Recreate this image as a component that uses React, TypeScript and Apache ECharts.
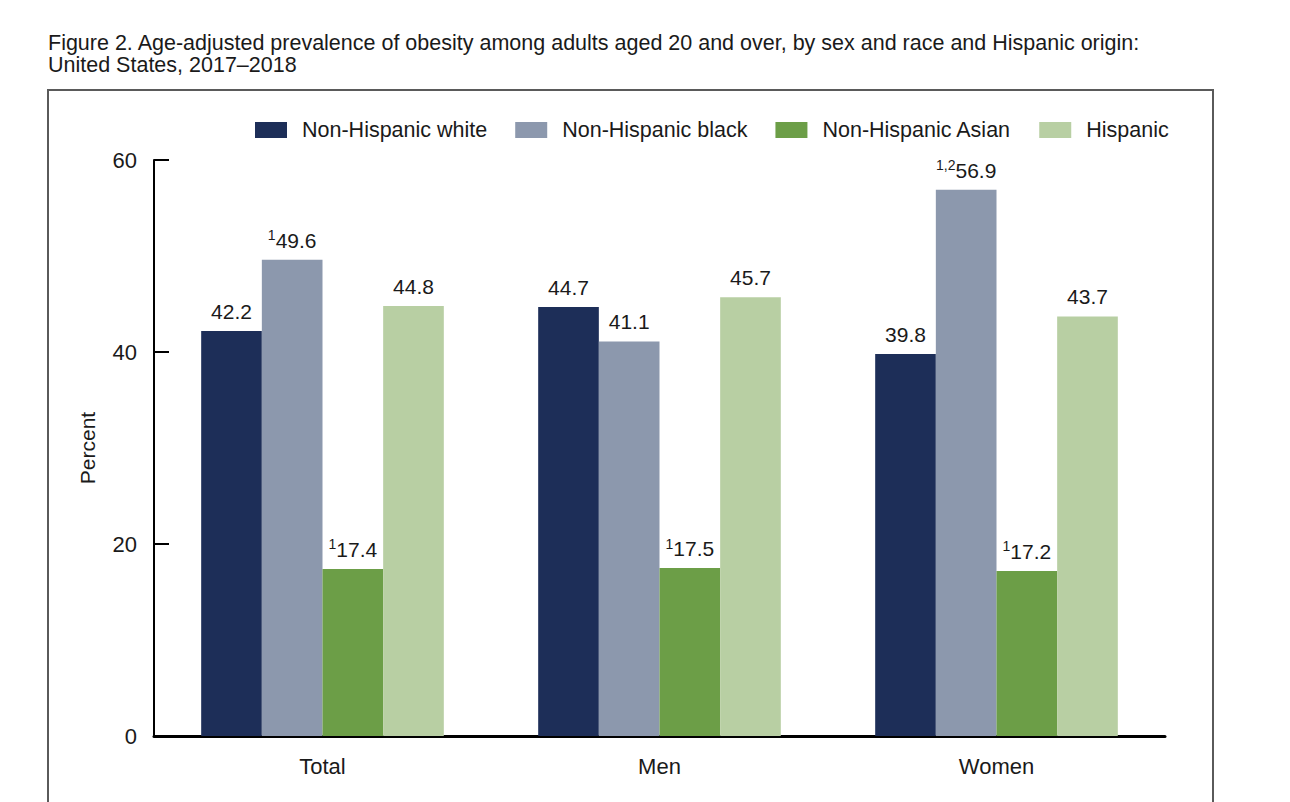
import React, { useEffect, useRef } from "react";
import * as echarts from "echarts";

const categories = ["Total", "Men", "Women"];
const seriesNames = ["Non-Hispanic white", "Non-Hispanic black", "Non-Hispanic Asian", "Hispanic"];
const whiteValues = [42.2, 44.7, 39.8];
const blackValues = [49.6, 41.1, 56.9];
const asianValues = [17.4, 17.5, 17.2];
const hispanicValues = [44.8, 45.7, 43.7];
// footnote markers printed before each value
const whiteNotes = ["", "", ""];
const blackNotes = ["1", "", "1,2"];
const asianNotes = ["1", "1", "1"];
const hispanicNotes = ["", "", ""];
const yTicks = [0, 20, 40, 60];

const colors = ["#1d2e58", "#8c98ad", "#6c9e47", "#b8cfa3"];
const FONT = "Liberation Sans, Arial, Helvetica, sans-serif";
const TEXT = "#1a1a1a";

export default function App() {
  const ref = useRef<HTMLDivElement>(null);
  useEffect(() => {
    if (!ref.current) return;
    const chart = echarts.init(ref.current, null, { renderer: "svg" });
    const values = [whiteValues, blackValues, asianValues, hispanicValues];
    const notes = [whiteNotes, blackNotes, asianNotes, hispanicNotes];
    chart.setOption({
      animation: false,
      backgroundColor: "#ffffff",
      textStyle: { fontFamily: FONT },
      title: {
        text: "Figure 2. Age-adjusted prevalence of obesity among adults aged 20 and over, by sex and race and Hispanic origin:\nUnited States, 2017\u20132018",
        left: 48,
        top: 32,
        padding: 0,
        textStyle: { fontFamily: FONT, fontSize: 21.5, fontWeight: "normal", color: TEXT, lineHeight: 22 },
      },
      graphic: [
        {
          type: "rect",
          shape: { x: 48, y: 90, width: 1165, height: 760 },
          style: { fill: "none", stroke: "#5a5a5a", lineWidth: 2 },
          silent: true,
          z: -1,
        },
      ],
      legend: {
        data: seriesNames,
        left: 250,
        top: 114,
        itemWidth: 32,
        itemHeight: 16,
        itemGap: 28,
        icon: "rect",
        textStyle: { fontFamily: FONT, fontSize: 21.5, color: TEXT, padding: [0, 0, 0, 10] },
      },
      grid: { left: 154, right: 125, top: 160, bottom: 66, containLabel: false },
      xAxis: {
        type: "category",
        data: categories,
        axisLine: { lineStyle: { color: "#000", width: 3 } },
        axisTick: { show: false },
        axisLabel: { fontFamily: FONT, fontSize: 22, color: TEXT, margin: 19 },
      },
      yAxis: {
        type: "value",
        min: yTicks[0],
        max: yTicks[yTicks.length - 1],
        interval: yTicks[1] - yTicks[0],
        name: "Percent",
        nameLocation: "middle",
        nameRotate: 90,
        nameGap: 56,
        nameTextStyle: { fontFamily: FONT, fontSize: 21, color: TEXT },
        axisLine: { show: true, lineStyle: { color: "#000", width: 2 } },
        axisTick: { show: true, inside: true, length: 15, lineStyle: { color: "#000", width: 2 } },
        axisLabel: { fontFamily: FONT, fontSize: 22, color: TEXT, margin: 17 },
        splitLine: { show: false },
      },
      series: seriesNames.map((name, i) => ({
        name,
        type: "bar",
        data: values[i],
        barGap: "0%",
        barCategoryGap: "28%",
        itemStyle: { color: colors[i] },
        label: {
          show: true,
          position: "top",
          distance: 8,
          formatter: (p: any) => {
            const n = notes[i][p.dataIndex];
            const v = p.value.toFixed(1);
            return n ? `{sup|${n}}{v|${v}}` : `{v|${v}}`;
          },
          rich: {
            v: { fontFamily: FONT, fontSize: 21, color: TEXT, lineHeight: 23 },
            sup: { fontFamily: FONT, fontSize: 14, color: TEXT, lineHeight: 23, padding: [0, 0, 10, 0] },
          },
        },
      })),
    });
    return () => chart.dispose();
  }, []);
  return (
    <div
      ref={ref}
      style={{ position: "fixed", left: 0, top: 0, width: 1290, height: 802, background: "#fff" }}
    />
  );
}
